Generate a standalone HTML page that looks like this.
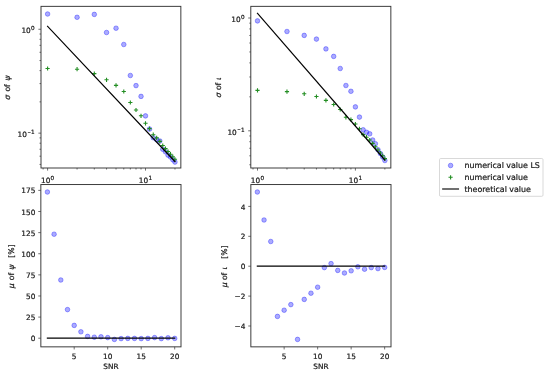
<!DOCTYPE html>
<html><head><meta charset="utf-8"><title>plot</title>
<style>
html,body{margin:0;padding:0;background:#fff;}
svg{display:block;font-family:"DejaVu Sans","Liberation Sans",sans-serif;}
</style></head><body>
<svg width="550" height="376" viewBox="0 0 550 376">
<rect width="550" height="376" fill="#fff"/>
<rect x="41.0" y="6.35" width="139.85" height="161.65" fill="#fff" stroke="#333333" stroke-width="0.95"/>
<clipPath id="ctl"><rect x="41.0" y="6.35" width="139.85" height="161.65"/></clipPath>
<line x1="47.60" y1="168.0" x2="47.60" y2="170.6" stroke="#333333" stroke-width="0.7"/>
<text x="47.60" y="183.00" text-anchor="middle" font-size="7.35" fill="#1a1a1a" stroke="#1a1a1a" stroke-width="0.22" >10<tspan font-size="5.7" dy="-3.0" dx="0.3">0</tspan></text>
<line x1="145.50" y1="168.0" x2="145.50" y2="170.6" stroke="#333333" stroke-width="0.7"/>
<text x="145.50" y="183.00" text-anchor="middle" font-size="7.35" fill="#1a1a1a" stroke="#1a1a1a" stroke-width="0.22" >10<tspan font-size="5.7" dy="-3.0" dx="0.3">1</tspan></text>
<line x1="43.12" y1="168.0" x2="43.12" y2="169.5" stroke="#333333" stroke-width="0.7"/>
<line x1="77.07" y1="168.0" x2="77.07" y2="169.5" stroke="#333333" stroke-width="0.7"/>
<line x1="94.31" y1="168.0" x2="94.31" y2="169.5" stroke="#333333" stroke-width="0.7"/>
<line x1="106.54" y1="168.0" x2="106.54" y2="169.5" stroke="#333333" stroke-width="0.7"/>
<line x1="116.03" y1="168.0" x2="116.03" y2="169.5" stroke="#333333" stroke-width="0.7"/>
<line x1="123.78" y1="168.0" x2="123.78" y2="169.5" stroke="#333333" stroke-width="0.7"/>
<line x1="130.34" y1="168.0" x2="130.34" y2="169.5" stroke="#333333" stroke-width="0.7"/>
<line x1="136.01" y1="168.0" x2="136.01" y2="169.5" stroke="#333333" stroke-width="0.7"/>
<line x1="141.02" y1="168.0" x2="141.02" y2="169.5" stroke="#333333" stroke-width="0.7"/>
<line x1="174.97" y1="168.0" x2="174.97" y2="169.5" stroke="#333333" stroke-width="0.7"/>
<line x1="38.4" y1="29.25" x2="41.0" y2="29.25" stroke="#333333" stroke-width="0.7"/>
<text x="34.70" y="33.25" text-anchor="end" font-size="7.35" fill="#1a1a1a" stroke="#1a1a1a" stroke-width="0.22" >10<tspan font-size="5.7" dy="-3.0" dx="0.3">0</tspan></text>
<line x1="38.4" y1="133.15" x2="41.0" y2="133.15" stroke="#333333" stroke-width="0.7"/>
<text x="34.70" y="137.15" text-anchor="end" font-size="7.35" fill="#1a1a1a" stroke="#1a1a1a" stroke-width="0.22" >10<tspan font-size="4.1" dy="-3.65" dx="0.5">−</tspan><tspan font-size="5.7" dy="0.65" dx="0.2">1</tspan></text>
<line x1="39.5" y1="164.43" x2="41.0" y2="164.43" stroke="#333333" stroke-width="0.7"/>
<line x1="39.5" y1="156.20" x2="41.0" y2="156.20" stroke="#333333" stroke-width="0.7"/>
<line x1="39.5" y1="149.24" x2="41.0" y2="149.24" stroke="#333333" stroke-width="0.7"/>
<line x1="39.5" y1="143.22" x2="41.0" y2="143.22" stroke="#333333" stroke-width="0.7"/>
<line x1="39.5" y1="137.90" x2="41.0" y2="137.90" stroke="#333333" stroke-width="0.7"/>
<line x1="39.5" y1="101.87" x2="41.0" y2="101.87" stroke="#333333" stroke-width="0.7"/>
<line x1="39.5" y1="83.58" x2="41.0" y2="83.58" stroke="#333333" stroke-width="0.7"/>
<line x1="39.5" y1="70.60" x2="41.0" y2="70.60" stroke="#333333" stroke-width="0.7"/>
<line x1="39.5" y1="60.53" x2="41.0" y2="60.53" stroke="#333333" stroke-width="0.7"/>
<line x1="39.5" y1="52.30" x2="41.0" y2="52.30" stroke="#333333" stroke-width="0.7"/>
<line x1="39.5" y1="45.34" x2="41.0" y2="45.34" stroke="#333333" stroke-width="0.7"/>
<line x1="39.5" y1="39.32" x2="41.0" y2="39.32" stroke="#333333" stroke-width="0.7"/>
<line x1="39.5" y1="34.00" x2="41.0" y2="34.00" stroke="#333333" stroke-width="0.7"/>
<circle cx="47.60" cy="14.00" r="2.3" fill="#0000ff" fill-opacity="0.33" stroke="#0000ff" stroke-opacity="0.36" stroke-width="0.95"/>
<circle cx="77.07" cy="17.30" r="2.3" fill="#0000ff" fill-opacity="0.33" stroke="#0000ff" stroke-opacity="0.36" stroke-width="0.95"/>
<circle cx="94.31" cy="14.40" r="2.3" fill="#0000ff" fill-opacity="0.33" stroke="#0000ff" stroke-opacity="0.36" stroke-width="0.95"/>
<circle cx="106.54" cy="32.50" r="2.3" fill="#0000ff" fill-opacity="0.33" stroke="#0000ff" stroke-opacity="0.36" stroke-width="0.95"/>
<circle cx="116.03" cy="28.20" r="2.3" fill="#0000ff" fill-opacity="0.33" stroke="#0000ff" stroke-opacity="0.36" stroke-width="0.95"/>
<circle cx="123.78" cy="44.50" r="2.3" fill="#0000ff" fill-opacity="0.33" stroke="#0000ff" stroke-opacity="0.36" stroke-width="0.95"/>
<circle cx="130.34" cy="75.50" r="2.3" fill="#0000ff" fill-opacity="0.33" stroke="#0000ff" stroke-opacity="0.36" stroke-width="0.95"/>
<circle cx="136.01" cy="85.60" r="2.3" fill="#0000ff" fill-opacity="0.33" stroke="#0000ff" stroke-opacity="0.36" stroke-width="0.95"/>
<circle cx="141.02" cy="96.40" r="2.3" fill="#0000ff" fill-opacity="0.33" stroke="#0000ff" stroke-opacity="0.36" stroke-width="0.95"/>
<circle cx="145.50" cy="115.90" r="2.3" fill="#0000ff" fill-opacity="0.33" stroke="#0000ff" stroke-opacity="0.36" stroke-width="0.95"/>
<circle cx="149.55" cy="129.10" r="2.3" fill="#0000ff" fill-opacity="0.33" stroke="#0000ff" stroke-opacity="0.36" stroke-width="0.95"/>
<circle cx="153.25" cy="137.73" r="2.3" fill="#0000ff" fill-opacity="0.33" stroke="#0000ff" stroke-opacity="0.36" stroke-width="0.95"/>
<circle cx="156.66" cy="139.64" r="2.3" fill="#0000ff" fill-opacity="0.33" stroke="#0000ff" stroke-opacity="0.36" stroke-width="0.95"/>
<circle cx="159.81" cy="140.98" r="2.3" fill="#0000ff" fill-opacity="0.33" stroke="#0000ff" stroke-opacity="0.36" stroke-width="0.95"/>
<circle cx="162.74" cy="149.20" r="2.3" fill="#0000ff" fill-opacity="0.33" stroke="#0000ff" stroke-opacity="0.36" stroke-width="0.95"/>
<circle cx="165.48" cy="151.81" r="2.3" fill="#0000ff" fill-opacity="0.33" stroke="#0000ff" stroke-opacity="0.36" stroke-width="0.95"/>
<circle cx="168.06" cy="155.14" r="2.3" fill="#0000ff" fill-opacity="0.33" stroke="#0000ff" stroke-opacity="0.36" stroke-width="0.95"/>
<circle cx="170.49" cy="157.02" r="2.3" fill="#0000ff" fill-opacity="0.33" stroke="#0000ff" stroke-opacity="0.36" stroke-width="0.95"/>
<circle cx="172.79" cy="159.76" r="2.3" fill="#0000ff" fill-opacity="0.33" stroke="#0000ff" stroke-opacity="0.36" stroke-width="0.95"/>
<circle cx="174.97" cy="162.08" r="2.3" fill="#0000ff" fill-opacity="0.33" stroke="#0000ff" stroke-opacity="0.36" stroke-width="0.95"/>
<path d="M45.50 68.50H49.70M47.60 66.40V70.60" stroke="#238e23" stroke-width="1.1" fill="none"/>
<path d="M74.97 69.20H79.17M77.07 67.10V71.30" stroke="#238e23" stroke-width="1.1" fill="none"/>
<path d="M92.21 73.60H96.41M94.31 71.50V75.70" stroke="#238e23" stroke-width="1.1" fill="none"/>
<path d="M104.44 79.80H108.64M106.54 77.70V81.90" stroke="#238e23" stroke-width="1.1" fill="none"/>
<path d="M113.93 85.40H118.13M116.03 83.30V87.50" stroke="#238e23" stroke-width="1.1" fill="none"/>
<path d="M121.68 91.50H125.88M123.78 89.40V93.60" stroke="#238e23" stroke-width="1.1" fill="none"/>
<path d="M128.24 102.50H132.44M130.34 100.40V104.60" stroke="#238e23" stroke-width="1.1" fill="none"/>
<path d="M133.91 110.00H138.11M136.01 107.90V112.10" stroke="#238e23" stroke-width="1.1" fill="none"/>
<path d="M138.92 115.80H143.12M141.02 113.70V117.90" stroke="#238e23" stroke-width="1.1" fill="none"/>
<path d="M143.40 123.30H147.60M145.50 121.20V125.40" stroke="#238e23" stroke-width="1.1" fill="none"/>
<path d="M147.45 128.60H151.65M149.55 126.50V130.70" stroke="#238e23" stroke-width="1.1" fill="none"/>
<path d="M151.15 134.70H155.35M153.25 132.60V136.80" stroke="#238e23" stroke-width="1.1" fill="none"/>
<path d="M154.56 137.90H158.76M156.66 135.80V140.00" stroke="#238e23" stroke-width="1.1" fill="none"/>
<path d="M157.71 141.40H161.91M159.81 139.30V143.50" stroke="#238e23" stroke-width="1.1" fill="none"/>
<path d="M160.64 145.50H164.84M162.74 143.40V147.60" stroke="#238e23" stroke-width="1.1" fill="none"/>
<path d="M163.38 148.60H167.58M165.48 146.50V150.70" stroke="#238e23" stroke-width="1.1" fill="none"/>
<path d="M165.96 151.50H170.16M168.06 149.40V153.60" stroke="#238e23" stroke-width="1.1" fill="none"/>
<path d="M168.39 154.20H172.59M170.49 152.10V156.30" stroke="#238e23" stroke-width="1.1" fill="none"/>
<path d="M170.69 156.70H174.89M172.79 154.60V158.80" stroke="#238e23" stroke-width="1.1" fill="none"/>
<path d="M172.87 159.30H177.07M174.97 157.20V161.40" stroke="#238e23" stroke-width="1.1" fill="none"/>
<line x1="47.60" y1="26.40" x2="174.97" y2="161.58" stroke="#000" stroke-width="1.2" stroke-linecap="square"/>
<text x="9.90" y="87.80" text-anchor="middle" font-size="7.7" fill="#1a1a1a" stroke="#1a1a1a" stroke-width="0.22" transform="rotate(-90 9.9 87.8)" word-spacing="0.9"><tspan font-style="italic">σ</tspan> of <tspan font-style="italic">ψ</tspan></text>
<rect x="250.8" y="6.35" width="140.05" height="161.65" fill="#fff" stroke="#333333" stroke-width="0.95"/>
<line x1="257.50" y1="168.0" x2="257.50" y2="170.6" stroke="#333333" stroke-width="0.7"/>
<text x="257.50" y="183.00" text-anchor="middle" font-size="7.35" fill="#1a1a1a" stroke="#1a1a1a" stroke-width="0.22" >10<tspan font-size="5.7" dy="-3.0" dx="0.3">0</tspan></text>
<line x1="355.40" y1="168.0" x2="355.40" y2="170.6" stroke="#333333" stroke-width="0.7"/>
<text x="355.40" y="183.00" text-anchor="middle" font-size="7.35" fill="#1a1a1a" stroke="#1a1a1a" stroke-width="0.22" >10<tspan font-size="5.7" dy="-3.0" dx="0.3">1</tspan></text>
<line x1="253.02" y1="168.0" x2="253.02" y2="169.5" stroke="#333333" stroke-width="0.7"/>
<line x1="286.97" y1="168.0" x2="286.97" y2="169.5" stroke="#333333" stroke-width="0.7"/>
<line x1="304.21" y1="168.0" x2="304.21" y2="169.5" stroke="#333333" stroke-width="0.7"/>
<line x1="316.44" y1="168.0" x2="316.44" y2="169.5" stroke="#333333" stroke-width="0.7"/>
<line x1="325.93" y1="168.0" x2="325.93" y2="169.5" stroke="#333333" stroke-width="0.7"/>
<line x1="333.68" y1="168.0" x2="333.68" y2="169.5" stroke="#333333" stroke-width="0.7"/>
<line x1="340.24" y1="168.0" x2="340.24" y2="169.5" stroke="#333333" stroke-width="0.7"/>
<line x1="345.91" y1="168.0" x2="345.91" y2="169.5" stroke="#333333" stroke-width="0.7"/>
<line x1="350.92" y1="168.0" x2="350.92" y2="169.5" stroke="#333333" stroke-width="0.7"/>
<line x1="384.87" y1="168.0" x2="384.87" y2="169.5" stroke="#333333" stroke-width="0.7"/>
<line x1="248.20000000000002" y1="18.00" x2="250.8" y2="18.00" stroke="#333333" stroke-width="0.7"/>
<text x="244.50" y="22.00" text-anchor="end" font-size="7.35" fill="#1a1a1a" stroke="#1a1a1a" stroke-width="0.22" >10<tspan font-size="5.7" dy="-3.0" dx="0.3">0</tspan></text>
<line x1="248.20000000000002" y1="130.80" x2="250.8" y2="130.80" stroke="#333333" stroke-width="0.7"/>
<text x="244.50" y="134.80" text-anchor="end" font-size="7.35" fill="#1a1a1a" stroke="#1a1a1a" stroke-width="0.22" >10<tspan font-size="4.1" dy="-3.65" dx="0.5">−</tspan><tspan font-size="5.7" dy="0.65" dx="0.2">1</tspan></text>
<line x1="249.3" y1="164.76" x2="250.8" y2="164.76" stroke="#333333" stroke-width="0.7"/>
<line x1="249.3" y1="155.82" x2="250.8" y2="155.82" stroke="#333333" stroke-width="0.7"/>
<line x1="249.3" y1="148.27" x2="250.8" y2="148.27" stroke="#333333" stroke-width="0.7"/>
<line x1="249.3" y1="141.73" x2="250.8" y2="141.73" stroke="#333333" stroke-width="0.7"/>
<line x1="249.3" y1="135.96" x2="250.8" y2="135.96" stroke="#333333" stroke-width="0.7"/>
<line x1="249.3" y1="96.84" x2="250.8" y2="96.84" stroke="#333333" stroke-width="0.7"/>
<line x1="249.3" y1="76.98" x2="250.8" y2="76.98" stroke="#333333" stroke-width="0.7"/>
<line x1="249.3" y1="62.89" x2="250.8" y2="62.89" stroke="#333333" stroke-width="0.7"/>
<line x1="249.3" y1="51.96" x2="250.8" y2="51.96" stroke="#333333" stroke-width="0.7"/>
<line x1="249.3" y1="43.02" x2="250.8" y2="43.02" stroke="#333333" stroke-width="0.7"/>
<line x1="249.3" y1="35.47" x2="250.8" y2="35.47" stroke="#333333" stroke-width="0.7"/>
<line x1="249.3" y1="28.93" x2="250.8" y2="28.93" stroke="#333333" stroke-width="0.7"/>
<line x1="249.3" y1="23.16" x2="250.8" y2="23.16" stroke="#333333" stroke-width="0.7"/>
<circle cx="257.50" cy="20.90" r="2.3" fill="#0000ff" fill-opacity="0.33" stroke="#0000ff" stroke-opacity="0.36" stroke-width="0.95"/>
<circle cx="286.97" cy="31.50" r="2.3" fill="#0000ff" fill-opacity="0.33" stroke="#0000ff" stroke-opacity="0.36" stroke-width="0.95"/>
<circle cx="304.21" cy="35.40" r="2.3" fill="#0000ff" fill-opacity="0.33" stroke="#0000ff" stroke-opacity="0.36" stroke-width="0.95"/>
<circle cx="316.44" cy="39.10" r="2.3" fill="#0000ff" fill-opacity="0.33" stroke="#0000ff" stroke-opacity="0.36" stroke-width="0.95"/>
<circle cx="325.93" cy="48.90" r="2.3" fill="#0000ff" fill-opacity="0.33" stroke="#0000ff" stroke-opacity="0.36" stroke-width="0.95"/>
<circle cx="333.68" cy="56.40" r="2.3" fill="#0000ff" fill-opacity="0.33" stroke="#0000ff" stroke-opacity="0.36" stroke-width="0.95"/>
<circle cx="340.24" cy="68.50" r="2.3" fill="#0000ff" fill-opacity="0.33" stroke="#0000ff" stroke-opacity="0.36" stroke-width="0.95"/>
<circle cx="345.91" cy="85.50" r="2.3" fill="#0000ff" fill-opacity="0.33" stroke="#0000ff" stroke-opacity="0.36" stroke-width="0.95"/>
<circle cx="350.92" cy="91.30" r="2.3" fill="#0000ff" fill-opacity="0.33" stroke="#0000ff" stroke-opacity="0.36" stroke-width="0.95"/>
<circle cx="355.40" cy="106.90" r="2.3" fill="#0000ff" fill-opacity="0.33" stroke="#0000ff" stroke-opacity="0.36" stroke-width="0.95"/>
<circle cx="359.45" cy="117.10" r="2.3" fill="#0000ff" fill-opacity="0.33" stroke="#0000ff" stroke-opacity="0.36" stroke-width="0.95"/>
<circle cx="363.15" cy="129.80" r="2.3" fill="#0000ff" fill-opacity="0.33" stroke="#0000ff" stroke-opacity="0.36" stroke-width="0.95"/>
<circle cx="366.56" cy="132.30" r="2.3" fill="#0000ff" fill-opacity="0.33" stroke="#0000ff" stroke-opacity="0.36" stroke-width="0.95"/>
<circle cx="369.71" cy="133.80" r="2.3" fill="#0000ff" fill-opacity="0.33" stroke="#0000ff" stroke-opacity="0.36" stroke-width="0.95"/>
<circle cx="372.64" cy="140.00" r="2.3" fill="#0000ff" fill-opacity="0.33" stroke="#0000ff" stroke-opacity="0.36" stroke-width="0.95"/>
<circle cx="375.38" cy="143.70" r="2.3" fill="#0000ff" fill-opacity="0.33" stroke="#0000ff" stroke-opacity="0.36" stroke-width="0.95"/>
<circle cx="377.96" cy="149.70" r="2.3" fill="#0000ff" fill-opacity="0.33" stroke="#0000ff" stroke-opacity="0.36" stroke-width="0.95"/>
<circle cx="380.39" cy="153.50" r="2.3" fill="#0000ff" fill-opacity="0.33" stroke="#0000ff" stroke-opacity="0.36" stroke-width="0.95"/>
<circle cx="382.69" cy="157.00" r="2.3" fill="#0000ff" fill-opacity="0.33" stroke="#0000ff" stroke-opacity="0.36" stroke-width="0.95"/>
<circle cx="384.87" cy="160.50" r="2.3" fill="#0000ff" fill-opacity="0.33" stroke="#0000ff" stroke-opacity="0.36" stroke-width="0.95"/>
<path d="M255.40 90.40H259.60M257.50 88.30V92.50" stroke="#238e23" stroke-width="1.1" fill="none"/>
<path d="M284.87 91.60H289.07M286.97 89.50V93.70" stroke="#238e23" stroke-width="1.1" fill="none"/>
<path d="M302.11 93.80H306.31M304.21 91.70V95.90" stroke="#238e23" stroke-width="1.1" fill="none"/>
<path d="M314.34 96.50H318.54M316.44 94.40V98.60" stroke="#238e23" stroke-width="1.1" fill="none"/>
<path d="M323.83 100.40H328.03M325.93 98.30V102.50" stroke="#238e23" stroke-width="1.1" fill="none"/>
<path d="M331.58 104.50H335.78M333.68 102.40V106.60" stroke="#238e23" stroke-width="1.1" fill="none"/>
<path d="M338.14 109.50H342.34M340.24 107.40V111.60" stroke="#238e23" stroke-width="1.1" fill="none"/>
<path d="M343.81 117.30H348.01M345.91 115.20V119.40" stroke="#238e23" stroke-width="1.1" fill="none"/>
<path d="M348.82 119.60H353.02M350.92 117.50V121.70" stroke="#238e23" stroke-width="1.1" fill="none"/>
<path d="M353.30 124.00H357.50M355.40 121.90V126.10" stroke="#238e23" stroke-width="1.1" fill="none"/>
<path d="M357.35 128.80H361.55M359.45 126.70V130.90" stroke="#238e23" stroke-width="1.1" fill="none"/>
<path d="M361.05 134.60H365.25M363.15 132.50V136.70" stroke="#238e23" stroke-width="1.1" fill="none"/>
<path d="M364.46 137.20H368.66M366.56 135.10V139.30" stroke="#238e23" stroke-width="1.1" fill="none"/>
<path d="M367.61 140.00H371.81M369.71 137.90V142.10" stroke="#238e23" stroke-width="1.1" fill="none"/>
<path d="M370.54 143.40H374.74M372.64 141.30V145.50" stroke="#238e23" stroke-width="1.1" fill="none"/>
<path d="M373.28 146.80H377.48M375.38 144.70V148.90" stroke="#238e23" stroke-width="1.1" fill="none"/>
<path d="M375.86 150.00H380.06M377.96 147.90V152.10" stroke="#238e23" stroke-width="1.1" fill="none"/>
<path d="M378.29 153.00H382.49M380.39 150.90V155.10" stroke="#238e23" stroke-width="1.1" fill="none"/>
<path d="M380.59 155.80H384.79M382.69 153.70V157.90" stroke="#238e23" stroke-width="1.1" fill="none"/>
<path d="M382.77 158.60H386.97M384.87 156.50V160.70" stroke="#238e23" stroke-width="1.1" fill="none"/>
<line x1="257.50" y1="13.30" x2="384.87" y2="160.06" stroke="#000" stroke-width="1.2" stroke-linecap="square"/>
<text x="220.90" y="87.50" text-anchor="middle" font-size="7.7" fill="#1a1a1a" stroke="#1a1a1a" stroke-width="0.22" transform="rotate(-90 220.9 87.5)" word-spacing="0.2"><tspan font-style="italic">σ</tspan> of <tspan font-style="italic">ι</tspan></text>
<rect x="40.85" y="184.55" width="140.15" height="162.3" fill="#fff" stroke="#333333" stroke-width="0.95"/>
<line x1="74.20" y1="346.85" x2="74.20" y2="349.45000000000005" stroke="#333333" stroke-width="0.7"/>
<text x="74.20" y="358.60" text-anchor="middle" font-size="7.35" fill="#1a1a1a" stroke="#1a1a1a" stroke-width="0.22" >5</text>
<line x1="107.70" y1="346.85" x2="107.70" y2="349.45000000000005" stroke="#333333" stroke-width="0.7"/>
<text x="107.70" y="358.60" text-anchor="middle" font-size="7.35" fill="#1a1a1a" stroke="#1a1a1a" stroke-width="0.22" >10</text>
<line x1="141.20" y1="346.85" x2="141.20" y2="349.45000000000005" stroke="#333333" stroke-width="0.7"/>
<text x="141.20" y="358.60" text-anchor="middle" font-size="7.35" fill="#1a1a1a" stroke="#1a1a1a" stroke-width="0.22" >15</text>
<line x1="174.70" y1="346.85" x2="174.70" y2="349.45000000000005" stroke="#333333" stroke-width="0.7"/>
<text x="174.70" y="358.60" text-anchor="middle" font-size="7.35" fill="#1a1a1a" stroke="#1a1a1a" stroke-width="0.22" >20</text>
<line x1="38.25" y1="338.20" x2="40.85" y2="338.20" stroke="#333333" stroke-width="0.7"/>
<text x="35.35" y="341.30" text-anchor="end" font-size="7.35" fill="#1a1a1a" stroke="#1a1a1a" stroke-width="0.22" >0</text>
<line x1="38.25" y1="317.08" x2="40.85" y2="317.08" stroke="#333333" stroke-width="0.7"/>
<text x="35.35" y="320.19" text-anchor="end" font-size="7.35" fill="#1a1a1a" stroke="#1a1a1a" stroke-width="0.22" >25</text>
<line x1="38.25" y1="295.97" x2="40.85" y2="295.97" stroke="#333333" stroke-width="0.7"/>
<text x="35.35" y="299.07" text-anchor="end" font-size="7.35" fill="#1a1a1a" stroke="#1a1a1a" stroke-width="0.22" >50</text>
<line x1="38.25" y1="274.86" x2="40.85" y2="274.86" stroke="#333333" stroke-width="0.7"/>
<text x="35.35" y="277.96" text-anchor="end" font-size="7.35" fill="#1a1a1a" stroke="#1a1a1a" stroke-width="0.22" >75</text>
<line x1="38.25" y1="253.74" x2="40.85" y2="253.74" stroke="#333333" stroke-width="0.7"/>
<text x="35.35" y="256.84" text-anchor="end" font-size="7.35" fill="#1a1a1a" stroke="#1a1a1a" stroke-width="0.22" >100</text>
<line x1="38.25" y1="232.62" x2="40.85" y2="232.62" stroke="#333333" stroke-width="0.7"/>
<text x="35.35" y="235.72" text-anchor="end" font-size="7.35" fill="#1a1a1a" stroke="#1a1a1a" stroke-width="0.22" >125</text>
<line x1="38.25" y1="211.51" x2="40.85" y2="211.51" stroke="#333333" stroke-width="0.7"/>
<text x="35.35" y="214.61" text-anchor="end" font-size="7.35" fill="#1a1a1a" stroke="#1a1a1a" stroke-width="0.22" >150</text>
<line x1="38.25" y1="190.39" x2="40.85" y2="190.39" stroke="#333333" stroke-width="0.7"/>
<text x="35.35" y="193.49" text-anchor="end" font-size="7.35" fill="#1a1a1a" stroke="#1a1a1a" stroke-width="0.22" >175</text>
<circle cx="47.40" cy="192.00" r="2.3" fill="#0000ff" fill-opacity="0.33" stroke="#0000ff" stroke-opacity="0.36" stroke-width="0.95"/>
<circle cx="54.10" cy="234.20" r="2.3" fill="#0000ff" fill-opacity="0.33" stroke="#0000ff" stroke-opacity="0.36" stroke-width="0.95"/>
<circle cx="60.80" cy="280.00" r="2.3" fill="#0000ff" fill-opacity="0.33" stroke="#0000ff" stroke-opacity="0.36" stroke-width="0.95"/>
<circle cx="67.50" cy="309.60" r="2.3" fill="#0000ff" fill-opacity="0.33" stroke="#0000ff" stroke-opacity="0.36" stroke-width="0.95"/>
<circle cx="74.20" cy="325.40" r="2.3" fill="#0000ff" fill-opacity="0.33" stroke="#0000ff" stroke-opacity="0.36" stroke-width="0.95"/>
<circle cx="80.90" cy="331.80" r="2.3" fill="#0000ff" fill-opacity="0.33" stroke="#0000ff" stroke-opacity="0.36" stroke-width="0.95"/>
<circle cx="87.60" cy="336.40" r="2.3" fill="#0000ff" fill-opacity="0.33" stroke="#0000ff" stroke-opacity="0.36" stroke-width="0.95"/>
<circle cx="94.30" cy="337.20" r="2.3" fill="#0000ff" fill-opacity="0.33" stroke="#0000ff" stroke-opacity="0.36" stroke-width="0.95"/>
<circle cx="101.00" cy="336.80" r="2.3" fill="#0000ff" fill-opacity="0.33" stroke="#0000ff" stroke-opacity="0.36" stroke-width="0.95"/>
<circle cx="107.70" cy="337.60" r="2.3" fill="#0000ff" fill-opacity="0.33" stroke="#0000ff" stroke-opacity="0.36" stroke-width="0.95"/>
<circle cx="114.40" cy="339.40" r="2.3" fill="#0000ff" fill-opacity="0.33" stroke="#0000ff" stroke-opacity="0.36" stroke-width="0.95"/>
<circle cx="121.10" cy="338.60" r="2.3" fill="#0000ff" fill-opacity="0.33" stroke="#0000ff" stroke-opacity="0.36" stroke-width="0.95"/>
<circle cx="127.80" cy="338.40" r="2.3" fill="#0000ff" fill-opacity="0.33" stroke="#0000ff" stroke-opacity="0.36" stroke-width="0.95"/>
<circle cx="134.50" cy="338.40" r="2.3" fill="#0000ff" fill-opacity="0.33" stroke="#0000ff" stroke-opacity="0.36" stroke-width="0.95"/>
<circle cx="141.20" cy="338.60" r="2.3" fill="#0000ff" fill-opacity="0.33" stroke="#0000ff" stroke-opacity="0.36" stroke-width="0.95"/>
<circle cx="147.90" cy="338.40" r="2.3" fill="#0000ff" fill-opacity="0.33" stroke="#0000ff" stroke-opacity="0.36" stroke-width="0.95"/>
<circle cx="154.60" cy="337.60" r="2.3" fill="#0000ff" fill-opacity="0.33" stroke="#0000ff" stroke-opacity="0.36" stroke-width="0.95"/>
<circle cx="161.30" cy="338.60" r="2.3" fill="#0000ff" fill-opacity="0.33" stroke="#0000ff" stroke-opacity="0.36" stroke-width="0.95"/>
<circle cx="168.00" cy="337.80" r="2.3" fill="#0000ff" fill-opacity="0.33" stroke="#0000ff" stroke-opacity="0.36" stroke-width="0.95"/>
<circle cx="174.70" cy="338.40" r="2.3" fill="#0000ff" fill-opacity="0.33" stroke="#0000ff" stroke-opacity="0.36" stroke-width="0.95"/>
<line x1="47.40" y1="338.20" x2="174.70" y2="338.20" stroke="#000" stroke-width="1.2" stroke-linecap="square"/>
<text x="111.00" y="369.10" text-anchor="middle" font-size="7.35" fill="#1a1a1a" stroke="#1a1a1a" stroke-width="0.22" >SNR</text>
<text x="14.00" y="266.40" text-anchor="middle" font-size="7.7" fill="#1a1a1a" stroke="#1a1a1a" stroke-width="0.22" transform="rotate(-90 14.0 266.4)" word-spacing="0.7"><tspan font-style="italic">μ</tspan> of <tspan font-style="italic">ψ</tspan> <tspan dx="3.6">[%]</tspan></text>
<rect x="250.85" y="184.55" width="140.15" height="162.3" fill="#fff" stroke="#333333" stroke-width="0.95"/>
<line x1="284.15" y1="346.85" x2="284.15" y2="349.45000000000005" stroke="#333333" stroke-width="0.7"/>
<text x="284.15" y="358.60" text-anchor="middle" font-size="7.35" fill="#1a1a1a" stroke="#1a1a1a" stroke-width="0.22" >5</text>
<line x1="317.65" y1="346.85" x2="317.65" y2="349.45000000000005" stroke="#333333" stroke-width="0.7"/>
<text x="317.65" y="358.60" text-anchor="middle" font-size="7.35" fill="#1a1a1a" stroke="#1a1a1a" stroke-width="0.22" >10</text>
<line x1="351.15" y1="346.85" x2="351.15" y2="349.45000000000005" stroke="#333333" stroke-width="0.7"/>
<text x="351.15" y="358.60" text-anchor="middle" font-size="7.35" fill="#1a1a1a" stroke="#1a1a1a" stroke-width="0.22" >15</text>
<line x1="384.65" y1="346.85" x2="384.65" y2="349.45000000000005" stroke="#333333" stroke-width="0.7"/>
<text x="384.65" y="358.60" text-anchor="middle" font-size="7.35" fill="#1a1a1a" stroke="#1a1a1a" stroke-width="0.22" >20</text>
<line x1="248.25" y1="326.00" x2="250.85" y2="326.00" stroke="#333333" stroke-width="0.7"/>
<text x="245.35" y="329.10" text-anchor="end" font-size="7.35" fill="#1a1a1a" stroke="#1a1a1a" stroke-width="0.22" >−4</text>
<line x1="248.25" y1="296.10" x2="250.85" y2="296.10" stroke="#333333" stroke-width="0.7"/>
<text x="245.35" y="299.20" text-anchor="end" font-size="7.35" fill="#1a1a1a" stroke="#1a1a1a" stroke-width="0.22" >−2</text>
<line x1="248.25" y1="266.20" x2="250.85" y2="266.20" stroke="#333333" stroke-width="0.7"/>
<text x="245.35" y="269.30" text-anchor="end" font-size="7.35" fill="#1a1a1a" stroke="#1a1a1a" stroke-width="0.22" >0</text>
<line x1="248.25" y1="236.30" x2="250.85" y2="236.30" stroke="#333333" stroke-width="0.7"/>
<text x="245.35" y="239.40" text-anchor="end" font-size="7.35" fill="#1a1a1a" stroke="#1a1a1a" stroke-width="0.22" >2</text>
<line x1="248.25" y1="206.40" x2="250.85" y2="206.40" stroke="#333333" stroke-width="0.7"/>
<text x="245.35" y="209.50" text-anchor="end" font-size="7.35" fill="#1a1a1a" stroke="#1a1a1a" stroke-width="0.22" >4</text>
<circle cx="257.35" cy="192.00" r="2.3" fill="#0000ff" fill-opacity="0.33" stroke="#0000ff" stroke-opacity="0.36" stroke-width="0.95"/>
<circle cx="264.05" cy="220.00" r="2.3" fill="#0000ff" fill-opacity="0.33" stroke="#0000ff" stroke-opacity="0.36" stroke-width="0.95"/>
<circle cx="270.75" cy="241.50" r="2.3" fill="#0000ff" fill-opacity="0.33" stroke="#0000ff" stroke-opacity="0.36" stroke-width="0.95"/>
<circle cx="277.45" cy="316.40" r="2.3" fill="#0000ff" fill-opacity="0.33" stroke="#0000ff" stroke-opacity="0.36" stroke-width="0.95"/>
<circle cx="284.15" cy="310.20" r="2.3" fill="#0000ff" fill-opacity="0.33" stroke="#0000ff" stroke-opacity="0.36" stroke-width="0.95"/>
<circle cx="290.85" cy="304.60" r="2.3" fill="#0000ff" fill-opacity="0.33" stroke="#0000ff" stroke-opacity="0.36" stroke-width="0.95"/>
<circle cx="297.55" cy="339.40" r="2.3" fill="#0000ff" fill-opacity="0.33" stroke="#0000ff" stroke-opacity="0.36" stroke-width="0.95"/>
<circle cx="304.25" cy="299.40" r="2.3" fill="#0000ff" fill-opacity="0.33" stroke="#0000ff" stroke-opacity="0.36" stroke-width="0.95"/>
<circle cx="310.95" cy="293.20" r="2.3" fill="#0000ff" fill-opacity="0.33" stroke="#0000ff" stroke-opacity="0.36" stroke-width="0.95"/>
<circle cx="317.65" cy="287.20" r="2.3" fill="#0000ff" fill-opacity="0.33" stroke="#0000ff" stroke-opacity="0.36" stroke-width="0.95"/>
<circle cx="324.35" cy="267.60" r="2.3" fill="#0000ff" fill-opacity="0.33" stroke="#0000ff" stroke-opacity="0.36" stroke-width="0.95"/>
<circle cx="331.05" cy="263.60" r="2.3" fill="#0000ff" fill-opacity="0.33" stroke="#0000ff" stroke-opacity="0.36" stroke-width="0.95"/>
<circle cx="337.75" cy="270.40" r="2.3" fill="#0000ff" fill-opacity="0.33" stroke="#0000ff" stroke-opacity="0.36" stroke-width="0.95"/>
<circle cx="344.45" cy="273.00" r="2.3" fill="#0000ff" fill-opacity="0.33" stroke="#0000ff" stroke-opacity="0.36" stroke-width="0.95"/>
<circle cx="351.15" cy="270.80" r="2.3" fill="#0000ff" fill-opacity="0.33" stroke="#0000ff" stroke-opacity="0.36" stroke-width="0.95"/>
<circle cx="357.85" cy="266.80" r="2.3" fill="#0000ff" fill-opacity="0.33" stroke="#0000ff" stroke-opacity="0.36" stroke-width="0.95"/>
<circle cx="364.55" cy="269.20" r="2.3" fill="#0000ff" fill-opacity="0.33" stroke="#0000ff" stroke-opacity="0.36" stroke-width="0.95"/>
<circle cx="371.25" cy="267.60" r="2.3" fill="#0000ff" fill-opacity="0.33" stroke="#0000ff" stroke-opacity="0.36" stroke-width="0.95"/>
<circle cx="377.95" cy="268.60" r="2.3" fill="#0000ff" fill-opacity="0.33" stroke="#0000ff" stroke-opacity="0.36" stroke-width="0.95"/>
<circle cx="384.65" cy="267.40" r="2.3" fill="#0000ff" fill-opacity="0.33" stroke="#0000ff" stroke-opacity="0.36" stroke-width="0.95"/>
<line x1="257.35" y1="266.20" x2="384.65" y2="266.20" stroke="#000" stroke-width="1.2" stroke-linecap="square"/>
<text x="321.00" y="369.10" text-anchor="middle" font-size="7.35" fill="#1a1a1a" stroke="#1a1a1a" stroke-width="0.22" >SNR</text>
<text x="227.30" y="266.30" text-anchor="middle" font-size="7.7" fill="#1a1a1a" stroke="#1a1a1a" stroke-width="0.22" transform="rotate(-90 227.3 266.3)" word-spacing="0.7"><tspan font-style="italic">μ</tspan> <tspan dx="-1.0">of</tspan> <tspan font-style="italic">ι</tspan> <tspan dx="5.0">[%]</tspan></text>
<rect x="439.5" y="158.5" width="103.5" height="37.8" rx="1.2" fill="#fff" stroke="#cfcfcf" stroke-width="0.8"/>
<circle cx="450.60" cy="165.50" r="2.3" fill="#0000ff" fill-opacity="0.33" stroke="#0000ff" stroke-opacity="0.36" stroke-width="0.95"/>
<path d="M448.50 177.30H452.70M450.60 175.20V179.40" stroke="#238e23" stroke-width="1.1" fill="none"/>
<line x1="442.80" y1="189.00" x2="458.40" y2="189.00" stroke="#222" stroke-width="1.3" stroke-linecap="square"/>
<text x="464.50" y="168.00" text-anchor="start" font-size="7.9" fill="#1a1a1a" stroke="#1a1a1a" stroke-width="0.22" >numerical value LS</text>
<text x="464.50" y="179.90" text-anchor="start" font-size="7.9" fill="#1a1a1a" stroke="#1a1a1a" stroke-width="0.22" >numerical value</text>
<text x="464.50" y="191.80" text-anchor="start" font-size="7.9" fill="#1a1a1a" stroke="#1a1a1a" stroke-width="0.22" >theoretical value</text>
</svg>
</body></html>
